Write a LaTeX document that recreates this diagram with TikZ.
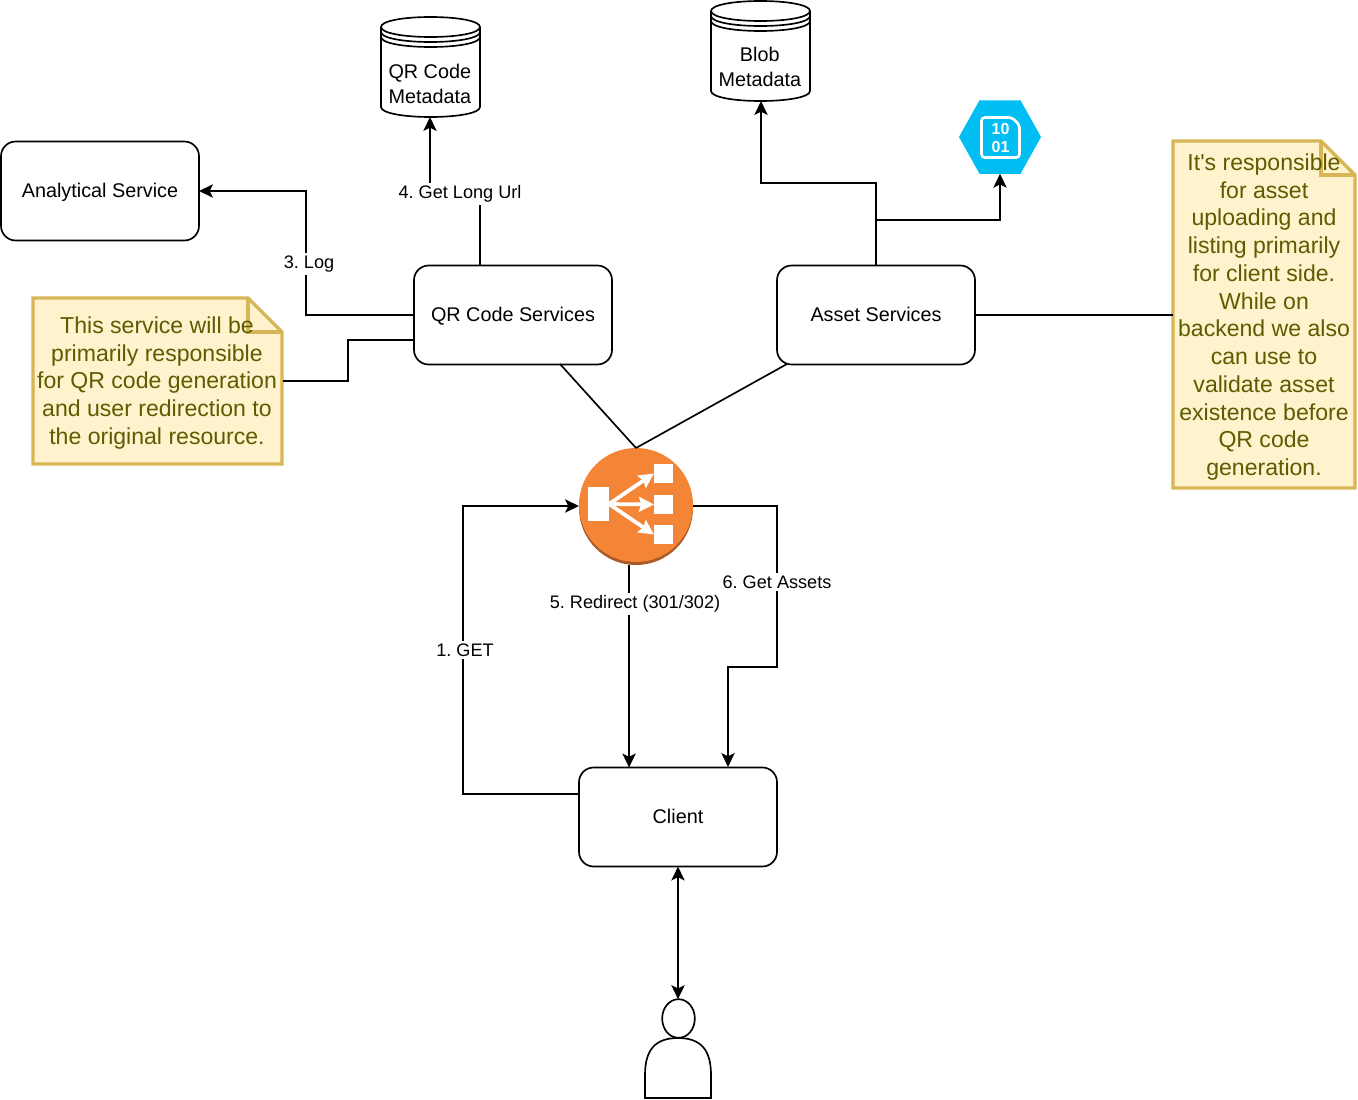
\documentclass[tikz,border=0pt]{standalone}
\usepackage{fontspec}
\setmainfont[Ligatures=TeXOff]{Liberation Sans}
\usetikzlibrary{arrows.meta,shapes.geometric}

\definecolor{noteFill}{HTML}{FFF2CC}
\definecolor{noteLine}{HTML}{D6B656}
\definecolor{noteText}{HTML}{5C5C00}
\definecolor{lbOrange}{HTML}{F58536}
\definecolor{lbShade}{HTML}{A85A2A}
\definecolor{iconBlue}{HTML}{00BEF2}

\tikzset{
  boxnode/.style={draw=black, rounded corners=11pt, minimum width=148.5pt, minimum height=74.25pt,
    inner sep=0pt, outer sep=0pt, text height=10.7pt, text depth=1.7pt, font=\fontsize{14.85}{18.5}\selectfont},
  boxtext/.style={inner sep=0pt, font=\fontsize{14.85}{18.5}\selectfont, align=center},
  dbnode/.style={inner sep=0pt, outer sep=0pt, minimum width=74.25pt, minimum height=75pt},
  steplabel/.style={fill=white, inner xsep=1pt, inner ysep=2pt, font=\fontsize{13.6}{16}\selectfont},
  notetext/.style={inner sep=0pt, text=noteText, font=\fontsize{17.3}{20.8}\selectfont, align=center},
  noteline/.style={draw=noteLine, fill=noteFill, line width=2.5pt, line join=miter},
  lbsquare/.style={fill=white, inner sep=0pt, outer sep=0pt, minimum width=14.5pt, minimum height=14.5pt},
  lbarrow/.style={white, line width=2.8pt, -{Stealth[length=11pt,width=11pt,inset=1.5pt]}},
  icontext/.style={inner sep=0pt, text=white, font=\fontsize{12}{13}\selectfont\bfseries},
}

%% #1 name, #2 left, #3 top, #4 text centre, #5 text
\newcommand{\dbstack}[5]{
  \draw[fill=white] (#2,#3+10) .. controls (#2,#3+4) and (#2+22,#3) .. (#2+49.5,#3)
    .. controls (#2+77,#3) and (#2+99,#3+4) .. (#2+99,#3+10)
    -- (#2+99,#3+90) .. controls (#2+99,#3+96) and (#2+77,#3+100) .. (#2+49.5,#3+100)
    .. controls (#2+22,#3+100) and (#2,#3+96) .. (#2,#3+90) -- cycle;
  \foreach \sY in {10,15,20}
    \draw (#2,#3+\sY) .. controls (#2,#3+\sY+6) and (#2+22,#3+\sY+10) .. (#2+49.5,#3+\sY+10)
      .. controls (#2+77,#3+\sY+10) and (#2+99,#3+\sY+6) .. (#2+99,#3+\sY);
  \node[dbnode] (#1) at (#2+49.5,#3+50) {};
  \node[boxtext] (#1T) at (#2+48.8,#4) {#5};
}

%% #1 left, #2 top, #3 right, #4 bottom
\newcommand{\notepage}[4]{
  \draw[noteline] (#1,#2) -- (#3-34,#2) -- (#3,#2+34) -- (#3,#4) -- (#1,#4) -- cycle;
  \draw[draw=noteLine, line width=2.5pt] (#3-34,#2) -- (#3-34,#2+34) -- (#3,#2+34);
}

\begin{document}
\frenchspacing
\begin{tikzpicture}[x=0.75pt, y=-0.75pt, line width=1.25pt, >={Stealth[length=10.5pt,width=10pt,inset=2.5pt]}]
    \useasboundingbox (0,0) rectangle (1358,1099);

    %% boxes
    \node[boxnode] (AN) at (100,191) {Analytical Service};
    \node[boxnode] (QR) at (513,315) {QR Code Services};
    \node[boxnode] (AS) at (876,315) {Asset Services};
    \node[boxnode] (CL) at (678,817) {Client};

    %% data stores
    \dbstack{QM}{381}{17}{84}{QR Code\\Metadata}
    \dbstack{BM}{711}{1}{67}{Blob\\Metadata}

    %% storage icon
    \node[regular polygon, regular polygon sides=6, fill=iconBlue, minimum size=61.5pt, inner sep=0pt, outer sep=0pt,
      yscale=1.035] (IC) at (1000,137) {};
    \draw[white, line width=2pt, rounded corners=2.5pt] (981.5,117.5) -- (1012,117.5) -- (1019.5,125) -- (1019.5,157.5) -- (981.5,157.5) -- cycle;
    \node[icontext] (IC1) at (1000.5,129) {10};
    \node[icontext] (IC2) at (1000.5,146.5) {01};

    %% load balancer
    \node[shape=circle, fill=lbShade, minimum size=85.5pt, inner sep=0pt, outer sep=0pt] (LBB) at (636,508) {};
    \node[shape=circle, fill=lbOrange, minimum size=85.5pt, inner sep=0pt, outer sep=0pt] (LB) at (636,505) {};
    \node[fill=white, inner sep=0pt, outer sep=0pt, minimum width=15.75pt, minimum height=25.5pt] (LB0) at (598.5,504) {};
    \node[lbsquare] (LB1) at (663.5,473.5) {};
    \node[lbsquare] (LB2) at (663.5,504.5) {};
    \node[lbsquare] (LB3) at (663.5,534.5) {};
    \path[lbarrow] (LB0.east) edge (LB1.west);
    \path[lbarrow] (LB0.east) edge (LB2.west);
    \path[lbarrow] (LB0.east) edge (LB3.west);

    %% person
    \draw[fill=white] (645,1098) -- (645,1075) .. controls (645,1050) and (655,1038) .. (678,1038)
      .. controls (701,1038) and (711,1050) .. (711,1075) -- (711,1098) -- cycle;
    \node[shape=ellipse, draw=black, fill=white, minimum width=24.5pt, minimum height=29pt, inner sep=0pt, outer sep=0pt] (HD) at (678.5,1018.5) {};

    %% notes
    \notepage{33}{298}{282}{464}
    \node[notetext] (N1) at (157,383) {This service will be\\primarily responsible\\for QR code generation\\and user redirection to\\the original resource.};
    \coordinate (N1E) at (283,381);
    \notepage{1173}{141}{1355}{488}
    \node[notetext] (N2) at (1264,317) {It's responsible\\for asset\\uploading and\\listing primarily\\for client side.\\While on\\backend we also\\can use to\\validate asset\\existence before\\QR code\\generation.};
    \coordinate (N2W) at (1173,315);

    %% bends
    \coordinate (CLog)  at (306,250);
    \coordinate (CQRT)  at (480,265);
    \coordinate (CQRB)  at (560,364);
    \coordinate (CASB)  at (787,364);
    \coordinate (CLong) at (430,191);
    \coordinate (CN1)   at (348,360);
    \coordinate (CBlob) at (761,183);
    \coordinate (CIcon) at (1000,220);
    \coordinate (CGet)  at (463,650);
    \coordinate (CAss)  at (777,667);
    \coordinate (CLW)   at (579,794);
    \coordinate (CLT)   at (728,767);

    %% connectors
    \draw[->] (QR.west) -| (CLog) |- (AN.east);
    \draw[->] (CQRT) |- (CLong) -- (CLong |- QM.south);
    \draw (N1E) -| (CN1) |- (QR.194.2);
    \path (LB.north) edge (CQRB);
    \path (LB.north) edge (CASB);
    \draw[->] (AS.north) |- (CBlob) -- (CBlob |- BM.south);
    \draw[->] (AS.north) |- (CIcon) -- (IC.south);
    \path (AS.east) edge (N2W);
    \draw[->] (CLW) -| (CGet) |- (LB.181);
    \path[->] (LBB.263) edge (LBB.263 |- CL.north);
    \draw[->] (LB.-1) -| (CAss) -| (CLT);
    \path[<->] (CL.south) edge (CL.south |- HD.north);

    %% connector labels
    \node[steplabel] (L1) at (465,650) {1. GET};
    \node[steplabel] (L3) at (309,264) {3. Log};
    \node[steplabel] (L4) at (460,194) {4. Get Long Url};
    \node[steplabel] (L5) at (635,604) {5. Redirect (301/302)};
    \node[steplabel] (L6) at (777,582) {6. Get Assets};

\end{tikzpicture}
\end{document}
